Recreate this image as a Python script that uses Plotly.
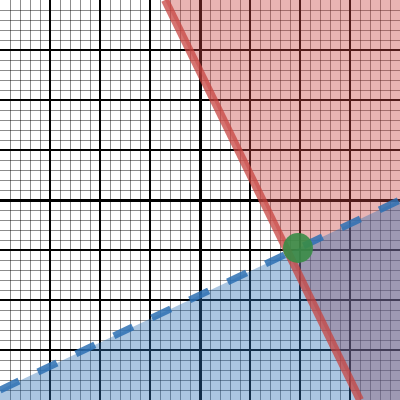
import plotly.graph_objects as go

# boundary lines
red_x = [-0.7, 3.2]
red_y = [4.0, -4.0]
blue_x = [-4.0, 4.0]
blue_y = [-3.8, 0.0]
point_x = [1.96]
point_y = [-0.96]
x_range = [-4, 4]
y_range = [-4, 4]

fig = go.Figure()
fig.add_trace(go.Scatter(x=[red_x[0], x_range[1], x_range[1], red_x[1], red_x[0]],
                         y=[red_y[0], y_range[1], y_range[0], red_y[1], red_y[0]],
                         fill="toself", fillcolor="rgba(199,68,64,0.4)", line=dict(width=0),
                         mode="lines", hoverinfo="skip"))
fig.add_trace(go.Scatter(x=[blue_x[0], blue_x[1], x_range[1], x_range[0], blue_x[0]],
                         y=[blue_y[0], blue_y[1], y_range[0], y_range[0], blue_y[0]],
                         fill="toself", fillcolor="rgba(45,112,179,0.4)", line=dict(width=0),
                         mode="lines", hoverinfo="skip"))
fig.add_trace(go.Scatter(x=red_x, y=red_y, mode="lines",
                         line=dict(color="rgba(199,68,64,0.75)", width=8)))
fig.add_trace(go.Scatter(x=blue_x, y=blue_y, mode="lines",
                         line=dict(color="rgba(45,112,179,0.85)", width=7, dash="dash")))
fig.add_trace(go.Scatter(x=point_x, y=point_y, mode="markers",
                         marker=dict(color="#388c46", size=30, opacity=0.9)))

ax = dict(range=x_range, dtick=1, showgrid=True, gridcolor="black", gridwidth=2,
          minor=dict(dtick=0.2, showgrid=True, gridcolor="rgba(0,0,0,0.45)", gridwidth=1),
          zeroline=True, zerolinecolor="black", zerolinewidth=3,
          showticklabels=False, ticks="", showline=False, fixedrange=True)
fig.update_layout(width=400, height=400, margin=dict(l=0, r=0, t=0, b=0),
                  paper_bgcolor="white", plot_bgcolor="white", showlegend=False,
                  xaxis=ax, yaxis=dict(ax, range=y_range))
fig.write_html("out.html", config={"displayModeBar": False},
               post_script="document.body.style.margin='0';document.body.style.overflow='hidden';")
